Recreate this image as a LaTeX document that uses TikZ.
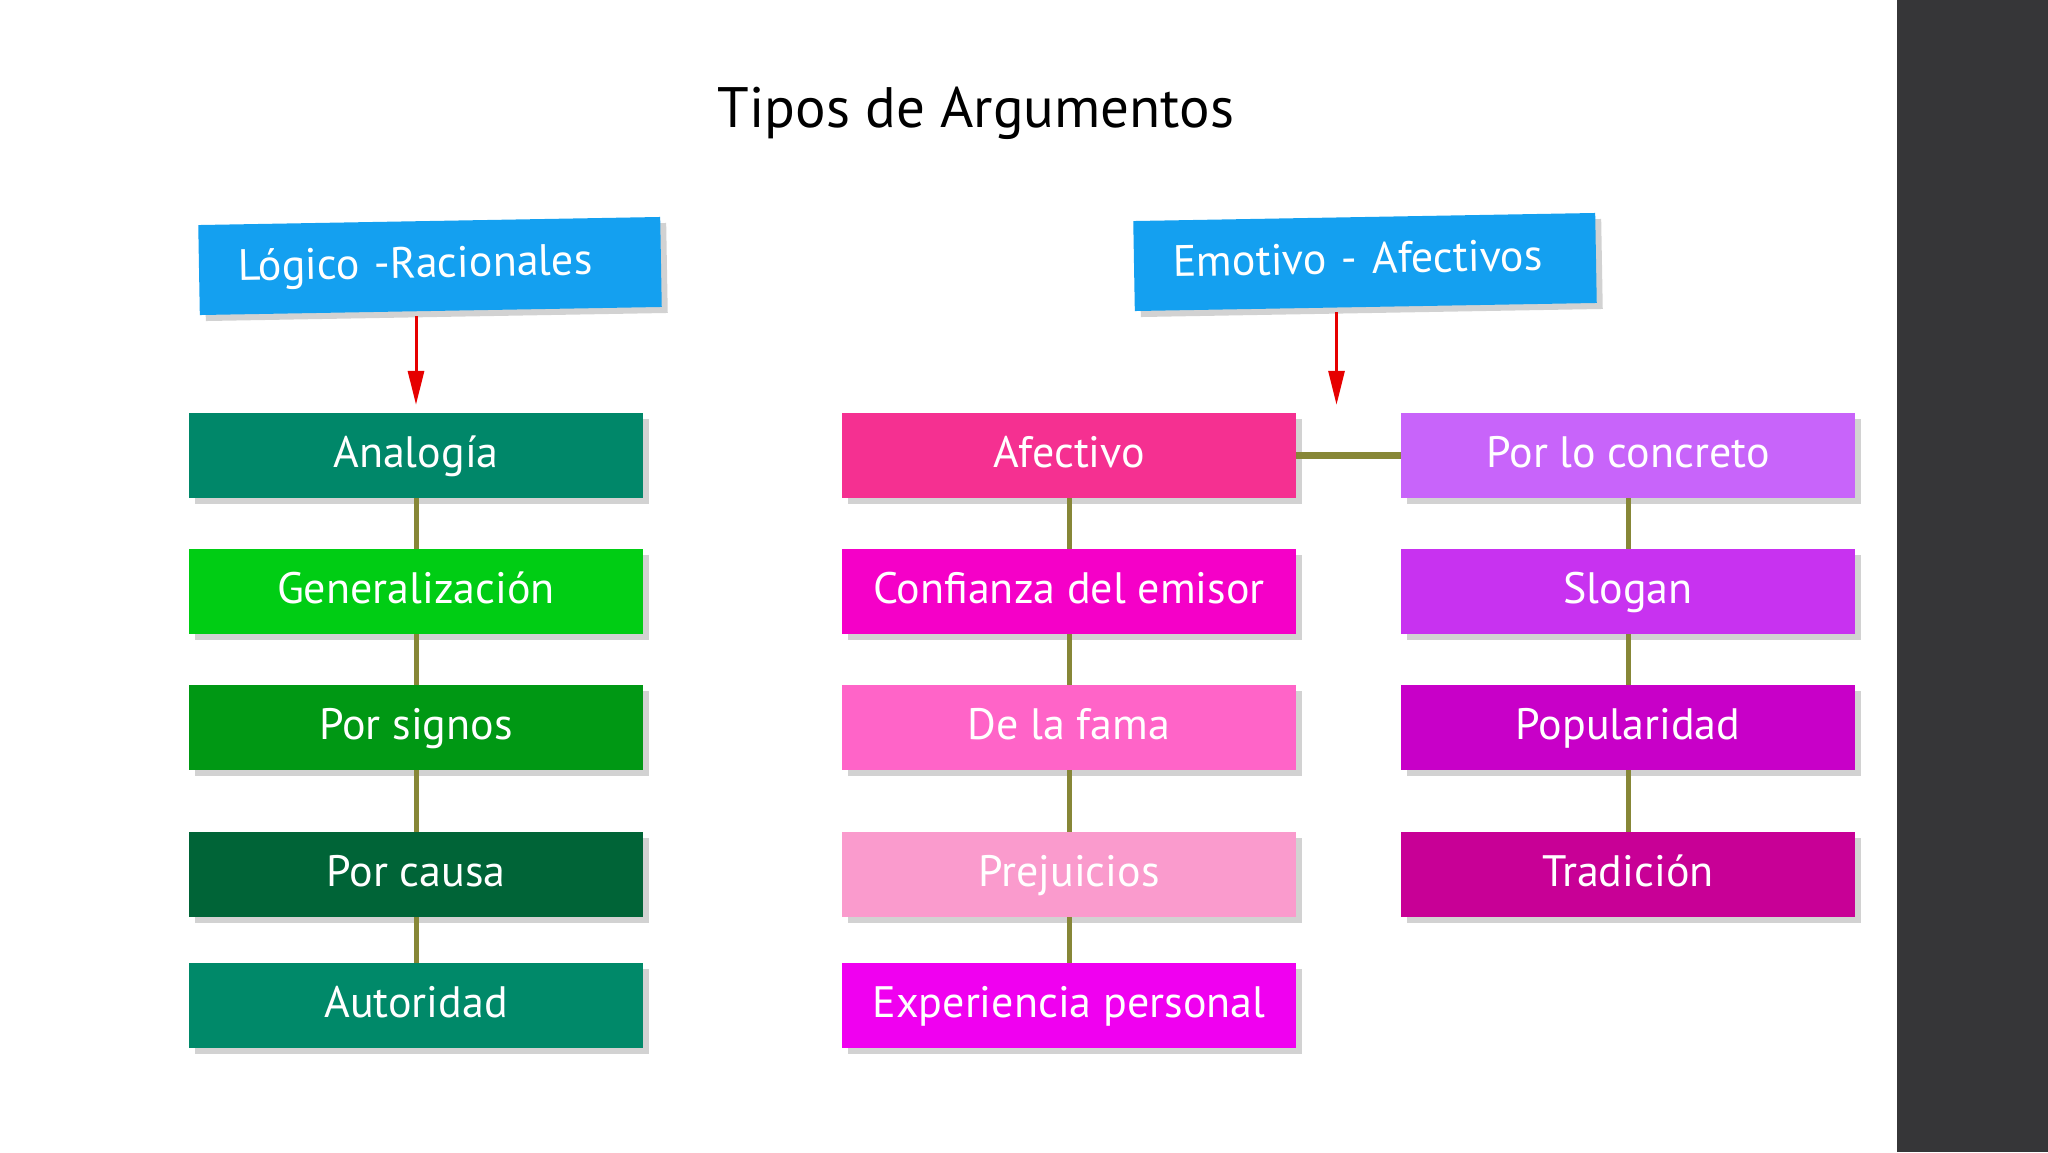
\documentclass[tikz,border=0pt]{standalone}
\usepackage{fontspec}
\setmainfont{PT Sans}
\usepackage{xcolor}
\usepackage{tikz}
\usetikzlibrary{arrows.meta, positioning, shadows, calc}

\definecolor{cielo}{RGB}{20,160,240}
\definecolor{rojo}{RGB}{230,0,0}
\definecolor{oliva}{RGB}{135,135,55}
\definecolor{panel}{RGB}{54,54,56}
\definecolor{analogia}{RGB}{0,135,105}
\definecolor{general}{RGB}{0,205,20}
\definecolor{signos}{RGB}{0,152,20}
\definecolor{causa}{RGB}{0,100,55}
\definecolor{autoridad}{RGB}{0,137,105}
\definecolor{afectivo}{RGB}{245,48,145}
\definecolor{confianza}{RGB}{245,0,200}
\definecolor{fama}{RGB}{255,100,200}
\definecolor{prejuicio}{RGB}{250,155,205}
\definecolor{experiencia}{RGB}{240,0,240}
\definecolor{concreto}{RGB}{200,100,250}
\definecolor{slogan}{RGB}{200,50,240}
\definecolor{popular}{RGB}{200,0,200}
\definecolor{tradicion}{RGB}{200,0,150}

\tikzset{
  box/.style={minimum width=454pt, minimum height=85pt, inner sep=0pt,
    text=white, font=\fontsize{44}{50}\selectfont, text height=32pt, text depth=9pt,
    drop shadow={shadow xshift=6pt, shadow yshift=-6pt, opacity=0.35}},
  head/.style={box, fill=cielo, minimum width=462pt, minimum height=90pt,
    text width=384pt, inner xsep=39pt, align=left, rotate=1},
  link/.style={draw=oliva, line width=5pt},
  flecha/.style={draw=rojo, line width=3pt, -{Triangle[length=34pt, width=16pt]},
    shorten <=5pt, shorten >=8pt},
}

\begin{document}
\begin{tikzpicture}[x=1pt, y=-1pt, node distance=136pt]
				\path[fill=white] (0,0) rectangle (2048,1152);
				\useasboundingbox (0,0) rectangle (2048,1152);
				\fill[panel] (1897,0) rectangle (2048,1152);

				\node[anchor=base, font=\fontsize{57}{64}\selectfont] (t) at (976,127) {Tipos de Argumentos};

				\node[head] (l0) at (430,266) {Lógico -Racionales};
				\node[head] (e0) at (1365,262) {Emotivo - Afectivos};

				% logico - racionales
				\node[box, fill=analogia] (l1) at (416,455.5) {Analogía};
				\node[box, fill=general, below of=l1] (l2) {Generalización};
				\node[box, fill=signos, below of=l2] (l3) {Por signos};
				\node[box, fill=causa, below of=l3, node distance=147pt] (l4) {Por causa};
				\node[box, fill=autoridad, below of=l4, node distance=131pt] (l5) {Autoridad};

				% emotivo - afectivos
				\node[box, fill=afectivo] (m1) at (1069,455.5) {Afectivo};
				\node[box, fill=confianza, below of=m1] (m2) {Confianza del emisor};
				\node[box, fill=fama, below of=m2] (m3) {De la fama};
				\node[box, fill=prejuicio, below of=m3, node distance=147pt] (m4) {Prejuicios};
				\node[box, fill=experiencia, below of=m4, node distance=131pt] (m5) {Experiencia personal};

				\node[box, fill=concreto] (r1) at (1628,455.5) {Por lo concreto};
				\node[box, fill=slogan, below of=r1] (r2) {Slogan};
				\node[box, fill=popular, below of=r2] (r3) {Popularidad};
				\node[box, fill=tradicion, below of=r3, node distance=147pt] (r4) {Tradición};

				\coordinate (pt) at ($(m1.north east)!0.5!(r1.north west)+(-12pt,0pt)$);
				\draw[flecha] (l0.south -| l1.north) -- (l1.north);
				\draw[flecha] (e0.south -| pt) -- (pt);

				\draw[link] (l1.south) -- (l2.north);
				\draw[link] (l2.south) -- (l3.north);
				\draw[link] (l3.south) -- (l4.north);
				\draw[link] (l4.south) -- (l5.north);
				\draw[link] (m1.south) -- (m2.north);
				\draw[link] (m2.south) -- (m3.north);
				\draw[link] (m3.south) -- (m4.north);
				\draw[link] (m4.south) -- (m5.north);
				\draw[link] (r1.south) -- (r2.north);
				\draw[link] (r2.south) -- (r3.north);
				\draw[link] (r3.south) -- (r4.north);
				\draw[link, line width=7pt] (m1.east) -- (r1.west);
			\end{tikzpicture}
\end{document}
